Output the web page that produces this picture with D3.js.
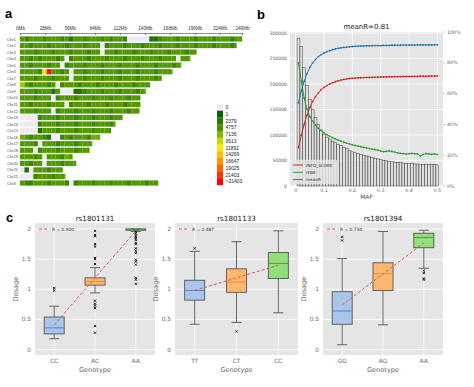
<!DOCTYPE html>
<html><head><meta charset="utf-8">
<script src="https://cdn.jsdelivr.net/npm/d3@7"></script>
<style>body{margin:0;background:#fff}svg{display:block}</style>
</head><body>
<svg id="fig" width="474" height="387"></svg>
<script>
// ================= Panel a data =================
const chromosomes = ["Chr1","Chr2","Chr3","Chr4","Chr5","Chr6","Chr7","Chr8","Chr9","Chr10","Chr11","Chr12","Chr13","Chr14","Chr15","Chr16","Chr17","Chr18","Chr19","Chr20","Chr21","Chr22","ChrX"];
const chromLengthsMb = [249,243,198,191,181,171,159,146,141,135,135,134,115,107,102,90,81,78,59,63,48,51,155];
// SNP density level per 5Mb bin (0 = no SNP, 1 = darkest green ... 9 = red)
const densityBins = [
  "32333233323133233323233200000112333233323332333233",
  "3323332333233323330233323332333233323332333233323",
  "3332333233323332330332333233323332333233",
  "332323332302333233323332333233323330332",
  "3323332330233323332333233323332333233",
  "33332693323033233323332333233323332",
  "33323332333033233323332333233323",
  "532333230233323332333233323332",
  "33323331300011233323332333233",
  "333233302333233323332333233",
  "332333233302333233323332333",
  "333233302333233323332333233",
  "00002333233323332333233",
  "0000233323332333233323",
  "000013332333233323332",
  "432332100232333244",
  "33320333233323332",
  "3330233323332333",
  "333230333243",
  "3323303332333",
  "0103332333",
  "00023332333",
  "3223332333202333233323332333233"
];
const axisTicksMb = [0,28,56,84,112,140,168,196,224,249];
const axisTickLabels = ["0Mb","28Mb","56Mb","84Mb","112Mb","140Mb","168Mb","196Mb","224Mb","249Mb"];
const levelColors = ["#efeaf2","#236f00","#3a8600","#519900","#6dab00","#a6c800","#f4e200","#ffaa00","#ff6000","#ee1500"];
const legendLabels = ["0","1","2379","4757","7136","9513","11891","14269","16647","19025","21403",">21403"];
const legendColors = ["#f1ecf5","#0a5f00","#2c7a00","#4c9200","#85b700","#c6db00","#ffea00","#ffbe00","#ff9300","#ff6400","#ff3300","#ff0000"];

// ================= Panel b data =================
const mafBins = [0.01,0.02,0.03,0.04,0.05,0.06,0.07,0.08,0.09,0.10,0.11,0.12,0.13,0.14,0.15,0.16,0.17,0.18,0.19,0.20,0.21,0.22,0.23,0.24,0.25,0.26,0.27,0.28,0.29,0.30,0.31,0.32,0.33,0.34,0.35,0.36,0.37,0.38,0.39,0.40,0.41,0.42,0.43,0.44,0.45,0.46,0.47,0.48,0.49,0.50];
const snpCounts = [290000,274000,232000,197000,170000,150000,134000,121000,110000,101000,96000,92000,88000,85000,82000,79000,76000,73000,70000,67000,65000,63500,62000,60500,59000,57500,56000,54500,53000,51500,50500,49500,48500,47500,46800,46200,45600,45000,44500,44000,43600,43300,43000,42700,42500,42300,42100,41900,41700,41500];
const infoScore = [25,33,40,46,51,55,58,60.5,62.5,64,65.2,66.2,67,67.7,68.3,68.8,69.2,69.5,69.8,70,70.1,70.2,70.3,70.4,70.5,70.5,70.6,70.6,70.7,70.7,70.8,70.8,70.9,70.9,71,71,71,71.1,71.1,71.1,71.2,71.2,71.2,71.3,71.3,71.3,71.4,71.4,71.4,71.5];
const hwe = [80,68,57,50,45,42,39.5,37.5,36,34.5,33.3,32.3,31.4,30.6,29.8,29.1,28.4,27.8,27.3,26.8,26.3,25.9,25.5,25.1,24.7,24.3,23.9,23.7,23.3,22.7,22.3,22.5,22.8,22.4,22,21.5,21.2,21,20.8,21,21.2,21,20.8,19.5,20.5,21,20.8,20.6,20.8,20.5];
const meanR = [54,62,68,73,77,80,82.2,84,85.3,86.4,87.2,87.9,88.5,89,89.4,89.7,90,90.2,90.4,90.6,90.7,90.8,90.9,91,91,91.1,91.1,91.2,91.2,91.2,91.3,91.3,91.3,91.4,91.4,91.4,91.4,91.5,91.5,91.5,91.5,91.5,91.6,91.6,91.6,91.6,91.6,91.6,91.7,91.7];
const countTicks = [0,50000,100000,150000,200000,250000,300000];
const pctTicks = [0,20,40,60,80,100];
const mafTicks = [0,0.1,0.2,0.3,0.4,0.5];
const seriesNames = ["INFO_SCORE","HWE","meanR"];

// ================= Panel c data =================
const snps = ["rs1801131","rs1801133","rs1801394"];
const genotypes = [["CC","AC","AA"],["TT","CT","CC"],["GG","AG","AA"]];
// [whisker low, Q1, median, Q3, whisker high]
const boxStats = [
  [[0.18,0.26,0.36,0.54,0.72],[0.94,1.07,1.13,1.19,1.36],[1.96,1.98,2.0,2.0,2.0]],
  [[0.42,0.82,0.98,1.15,1.63],[0.45,0.95,1.12,1.34,1.79],[0.61,1.18,1.43,1.61,1.97]],
  [[0.08,0.42,0.64,0.96,1.51],[0.41,0.98,1.26,1.44,1.96],[1.35,1.69,1.86,1.93,1.98]]
];
const outliers = [
  [[1.02,0.98],[1.97,1.90,1.88,1.75,1.71,1.52,1.50,1.42,0.81,0.76,0.73,0.69,0.39,0.28],[1.955,1.93,1.90,1.87,1.85,1.82,1.77,1.75,1.68,1.64,1.60,1.49,1.46,1.41,1.19,1.16,1.09]],
  [[1.68],[0.30],[]],
  [[1.87,1.81],[],[1.31,1.27,1.18,1.16]]
];
const corrR = ["0.900","0.487","0.734"];
const fitEnds = [[0.41,1.97],[0.98,1.40],[0.74,1.77]];
const dosageTicks = [0,0.5,1,1.5,2];
const boxColors = ["#a9c5ec","#ffb870","#93dd7c"];
const medianColors = ["#4f7fc0","#d88a3a","#3f9a3f"];

// ================= Drawing =================
const svg = d3.select("#fig");
svg.append("rect").attr("width",474).attr("height",387).attr("fill","#fff");

// Panel labels
const lab = [["a",5,18],["b",257,19],["c",6,222]];
svg.selectAll("text.plabel").data(lab).join("text").attr("class","plabel")
  .attr("x",d=>d[1]).attr("y",d=>d[2]).text(d=>d[0])
  .attr("font-family","Liberation Sans, Arial, sans-serif").attr("font-weight","bold").attr("font-size",13);

// ---------- Panel a ----------
(function(){
  const g = svg.append("g");
  const x = d3.scaleLinear().domain([0,249]).range([20,242]);
  const rowY = d3.scalePoint().domain(chromosomes).range([39,183]);
  const rowH = 5.2;
  const ax = g.append("g").attr("transform","translate(0,33)")
    .call(d3.axisTop(x).tickValues(axisTicksMb).tickFormat((d,i)=>axisTickLabels[i]).tickSize(-2).tickPadding(3));
  ax.select(".domain").attr("stroke","#444").attr("stroke-width",0.6);
  ax.selectAll(".tick line").attr("stroke","#444").attr("stroke-width",0.6);
  ax.selectAll("text").attr("font-size",4.6).attr("fill","#333").attr("font-family","Liberation Sans, Arial, sans-serif");

  chromosomes.forEach((c,ci)=>{
    const len = chromLengthsMb[ci];
    const bins = densityBins[ci].split("").map(Number);
    const cy = rowY(c);
    g.append("text").attr("x",7).attr("y",cy+1.5).text(c)
      .attr("font-size",4).attr("fill","#444").attr("font-family","Liberation Sans, Arial, sans-serif");
    g.selectAll(null).data(bins).join("rect")
      .attr("x",(d,i)=>x(i*5))
      .attr("width",(d,i)=>Math.max(0,x(Math.min((i+1)*5,len))-x(i*5))+0.05)
      .attr("y",cy-rowH/2).attr("height",rowH)
      .attr("fill",d=>levelColors[d]);
  });

  // legend
  const ly = d3.scaleBand().domain(legendLabels).range([104,185]);
  const lg = g.append("g");
  lg.selectAll("rect").data(legendLabels).join("rect")
    .attr("x",217).attr("y",d=>ly(d)).attr("width",6).attr("height",ly.bandwidth()+0.2)
    .attr("fill",(d,i)=>legendColors[i]);
  lg.selectAll("text").data(legendLabels).join("text")
    .attr("x",225.5).attr("y",d=>ly(d)+ly.bandwidth()/2+1.8).text(d=>d)
    .attr("font-size",5).attr("fill","#222").attr("font-family","Liberation Sans, Arial, sans-serif");
})();

// ---------- Panel b ----------
(function(){
  const g = svg.append("g");
  const L=290, R=443, T=32, B=186;
  const x = d3.scaleLinear().domain([-0.02,0.52]).range([L,R]);
  const yL = d3.scaleLinear().domain([0,300000]).range([B,33]);
  const yR = d3.scaleLinear().domain([0,100]).range([B,T]);
  const font = "DejaVu Sans, sans-serif";
  g.append("rect").attr("x",L).attr("y",T).attr("width",R-L).attr("height",B-T).attr("fill","#e5e5e5");
  g.selectAll("line.gy").data(countTicks).join("line").attr("class","gy")
    .attr("x1",L).attr("x2",R).attr("y1",d=>yL(d)).attr("y2",d=>yL(d)).attr("stroke","#fff").attr("stroke-width",0.8);
  g.selectAll("line.gx").data(mafTicks).join("line").attr("class","gx")
    .attr("y1",T).attr("y2",B).attr("x1",d=>x(d)).attr("x2",d=>x(d)).attr("stroke","#fff").attr("stroke-width",0.8);
  // histogram
  const bw = x(0.01)-x(0);
  g.selectAll("rect.bar").data(mafBins).join("rect").attr("class","bar")
    .attr("x",d=>x(d)-bw/2).attr("width",bw)
    .attr("y",(d,i)=>yL(snpCounts[i])).attr("height",(d,i)=>yL(0)-yL(snpCounts[i]))
    .attr("fill","#dcdcdc").attr("fill-opacity",0.6).attr("stroke","#333").attr("stroke-width",0.45);
  // lines
  const series = [infoScore,hwe,meanR];
  const cols = ["#d62728","#2ca02c","#1f77b4"];
  series.forEach((s,si)=>{
    const line = d3.line().x((d,i)=>x(mafBins[i])).y(d=>yR(d));
    g.append("path").datum(s).attr("d",line).attr("fill","none").attr("stroke",cols[si]).attr("stroke-width",1);
    g.selectAll(null).data(s).join("circle").attr("cx",(d,i)=>x(mafBins[i])).attr("cy",d=>yR(d))
      .attr("r",0.9).attr("fill",cols[si]);
  });
  // axes labels
  g.selectAll("text.tl").data(countTicks).join("text").attr("class","tl")
    .attr("x",L-3).attr("y",d=>yL(d)+1.6).attr("text-anchor","end").text(d=>d)
    .attr("font-size",4.6).attr("fill","#666").attr("font-family",font);
  g.selectAll("text.tr").data(pctTicks).join("text").attr("class","tr")
    .attr("x",R+4).attr("y",d=>yR(d)+1.6).text(d=>d+"%")
    .attr("font-size",4.8).attr("fill","#666").attr("font-family",font);
  g.selectAll("line.rt").data(pctTicks).join("line").attr("class","rt")
    .attr("x1",R).attr("x2",R+2).attr("y1",d=>yR(d)).attr("y2",d=>yR(d)).attr("stroke","#888").attr("stroke-width",0.5);
  g.selectAll("text.tx").data(mafTicks).join("text").attr("class","tx")
    .attr("x",d=>x(d)).attr("y",B+6).attr("text-anchor","middle").text(d=>d===0?"0":d)
    .attr("font-size",4.8).attr("fill","#666").attr("font-family",font);
  g.append("text").attr("x",(L+R)/2).attr("y",B+13).attr("text-anchor","middle").text("MAF")
    .attr("font-size",6).attr("fill","#555").attr("font-family",font);
  g.append("text").attr("x",(L+R)/2).attr("y",T-3).attr("text-anchor","middle").text("meanR=0.81")
    .attr("font-size",7).attr("fill","#222").attr("font-family",font);
  // legend
  const lg = g.append("g");
  lg.append("rect").attr("x",291).attr("y",160).attr("width",46).attr("height",24).attr("rx",1)
    .attr("fill","#e5e5e5").attr("fill-opacity",0.85).attr("stroke","#ddd").attr("stroke-width",0.4);
  seriesNames.forEach((n,i)=>{
    const yy = 165+i*7.3;
    lg.append("line").attr("x1",293).attr("x2",303).attr("y1",yy).attr("y2",yy).attr("stroke",cols[i]).attr("stroke-width",1);
    lg.append("text").attr("x",306).attr("y",yy+1.5).text(n).attr("font-size",4.2).attr("fill","#333").attr("font-family",font);
  });
})();

// ---------- Panel c ----------
(function(){
  const font = "DejaVu Sans, sans-serif";
  const lefts = [35,175,323], widths = [120,123,120];
  const T=223, B=355;
  const y = d3.scaleLinear().domain([-0.09,2.1]).range([B,T]);
  snps.forEach((snp,si)=>{
    const g = svg.append("g");
    const L = lefts[si], R = L+widths[si];
    const x = d3.scalePoint().domain(genotypes[si]).range([L,R]).padding(0.47);
    g.append("rect").attr("x",L).attr("y",T).attr("width",R-L).attr("height",B-T).attr("fill","#e5e5e5");
    g.selectAll("line.gy").data(dosageTicks).join("line").attr("class","gy")
      .attr("x1",L).attr("x2",R).attr("y1",d=>y(d)).attr("y2",d=>y(d)).attr("stroke","#fff").attr("stroke-width",0.8);
    g.selectAll("line.gx").data(genotypes[si]).join("line").attr("class","gx")
      .attr("y1",T).attr("y2",B).attr("x1",d=>x(d)).attr("x2",d=>x(d)).attr("stroke","#fff").attr("stroke-width",0.8);
    const bw = 20, cw = 10;
    genotypes[si].forEach((gt,gi)=>{
      const [wl,q1,md,q3,wh] = boxStats[si][gi];
      const cx = x(gt);
      const st = "#555";
      g.append("line").attr("x1",cx).attr("x2",cx).attr("y1",y(wh)).attr("y2",y(q3)).attr("stroke",st).attr("stroke-width",0.9);
      g.append("line").attr("x1",cx).attr("x2",cx).attr("y1",y(q1)).attr("y2",y(wl)).attr("stroke",st).attr("stroke-width",0.9);
      g.append("line").attr("x1",cx-cw/2).attr("x2",cx+cw/2).attr("y1",y(wh)).attr("y2",y(wh)).attr("stroke",st).attr("stroke-width",0.9);
      g.append("line").attr("x1",cx-cw/2).attr("x2",cx+cw/2).attr("y1",y(wl)).attr("y2",y(wl)).attr("stroke",st).attr("stroke-width",0.9);
      g.append("rect").attr("x",cx-bw/2).attr("width",bw).attr("y",y(q3)).attr("height",Math.max(1,y(q1)-y(q3)))
        .attr("fill",boxColors[gi]).attr("stroke",st).attr("stroke-width",0.9);
      g.append("line").attr("x1",cx-bw/2).attr("x2",cx+bw/2).attr("y1",y(md)).attr("y2",y(md)).attr("stroke",medianColors[gi]).attr("stroke-width",0.9);
      outliers[si][gi].forEach(v=>{
        const py = y(v), s=1.1;
        g.append("path").attr("d",`M${cx-s},${py-s}L${cx+s},${py+s}M${cx-s},${py+s}L${cx+s},${py-s}`)
          .attr("stroke","#111").attr("stroke-width",0.9);
      });
    });
    // fit line
    const gts = genotypes[si];
    g.append("line").attr("x1",x(gts[0])).attr("x2",x(gts[2])).attr("y1",y(fitEnds[si][0])).attr("y2",y(fitEnds[si][1]))
      .attr("stroke","#e05555").attr("stroke-width",1).attr("stroke-dasharray","3,2");
    // legend
    g.append("line").attr("x1",L+4).attr("x2",L+14).attr("y1",y(2)).attr("y2",y(2))
      .attr("stroke","#e05555").attr("stroke-width",1).attr("stroke-dasharray","3,2");
    g.append("text").attr("x",L+17).attr("y",y(2)+1.6).text("R = "+corrR[si])
      .attr("font-size",4.4).attr("fill","#333").attr("font-family",font);
    // ticks
    g.selectAll("text.ty").data(dosageTicks).join("text").attr("class","ty")
      .attr("x",L-4).attr("y",d=>y(d)+2).attr("text-anchor","end").text(d=>d)
      .attr("font-size",5.8).attr("fill","#666").attr("font-family",font);
    g.selectAll("text.tx").data(gts).join("text").attr("class","tx")
      .attr("x",d=>x(d)).attr("y",B+8).attr("text-anchor","middle").text(d=>d)
      .attr("font-size",5.8).attr("fill","#666").attr("font-family",font);
    g.append("text").attr("x",(L+R)/2).attr("y",B+17).attr("text-anchor","middle").text("Genotype")
      .attr("font-size",6.6).attr("fill","#666").attr("font-family",font);
    g.append("text").attr("transform",`translate(${L-17},${(T+B)/2}) rotate(-90)`).attr("text-anchor","middle").text("Dosage")
      .attr("font-size",6.6).attr("fill","#666").attr("font-family",font);
    g.append("text").attr("x",(L+R)/2).attr("y",T-2.5).attr("text-anchor","middle").text(snp)
      .attr("font-size",7.2).attr("fill","#111").attr("font-family",font);
  });
})();
</script>
</body></html>
